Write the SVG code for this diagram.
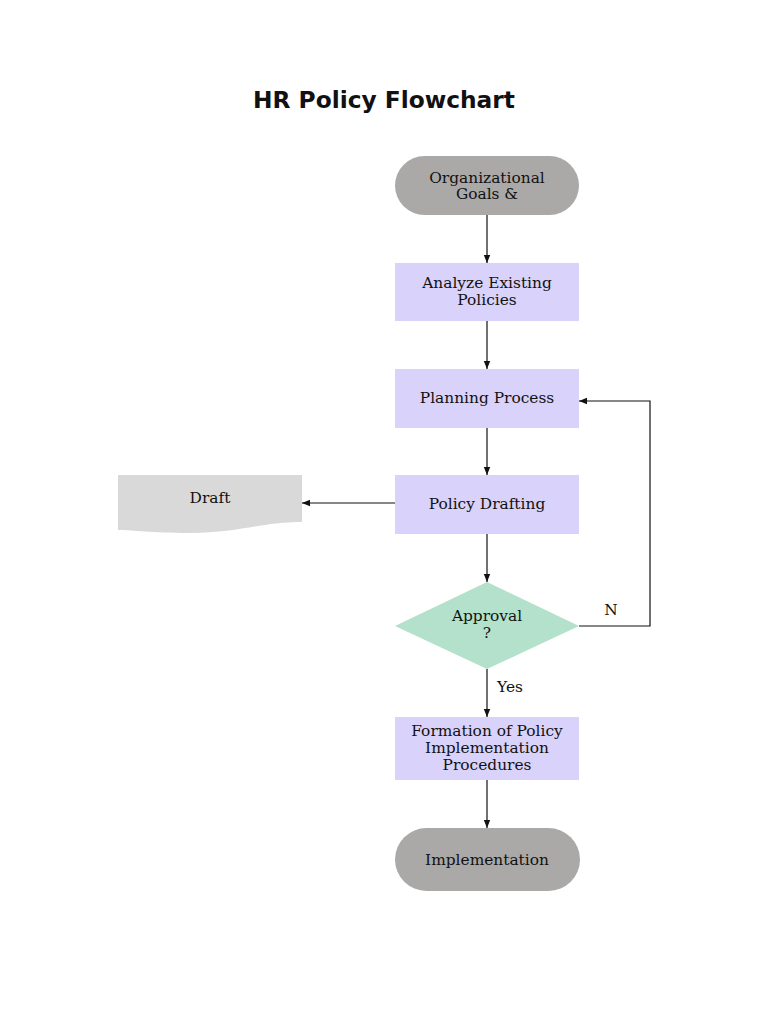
<svg xmlns="http://www.w3.org/2000/svg" width="768" height="1024" viewBox="0 0 768 1024">
<style>
.t{font-family:"DejaVu Serif",serif;font-size:15.4px;fill:#111;text-anchor:middle}
.term{fill:#aba9a8}
.proc{fill:#d9d2fb}
.c{stroke:#111;stroke-width:1.2;fill:none;marker-end:url(#ah)}
</style>
<defs>
<marker id="ah" viewBox="0 0 10 10" refX="10" refY="5" markerWidth="8" markerHeight="8" markerUnits="userSpaceOnUse" orient="auto"><path d="M0,1 L10,5 L0,9 z" fill="#111"/></marker>
</defs>
<rect width="768" height="1024" fill="#fff"/>
<text x="384" y="108" style="font-family:'DejaVu Sans',sans-serif;font-size:23.3px;font-weight:bold;fill:#111;text-anchor:middle">HR Policy Flowchart</text>
<g id="n1"><rect class="term" x="395" y="156" width="184" height="59" rx="29.5"/><text class="t" x="487" y="183">Organizational</text><text class="t" x="487" y="199">Goals &amp;</text></g>
<g id="n2"><rect class="proc" x="395" y="263" width="184" height="58"/><text class="t" x="487" y="288">Analyze Existing</text><text class="t" x="487" y="305">Policies</text></g>
<g id="n3"><rect class="proc" x="395" y="369" width="184" height="59"/><text class="t" x="487" y="403">Planning Process</text></g>
<g id="n4"><rect class="proc" x="395" y="475" width="184" height="59"/><text class="t" x="487" y="509">Policy Drafting</text></g>
<g id="draft"><path d="M118,475 H302 V522 C260,522 240,533 190,533 C150,533 135,530 118,530 Z" fill="#d9d9d9"/><text class="t" x="210" y="503">Draft</text></g>
<g id="n5"><path d="M487,582 L579,626 L487,669 L395,626 Z" fill="#b3e1cc"/><text class="t" x="487" y="621">Approval</text><text class="t" x="487" y="638">?</text></g>
<g id="n6"><rect class="proc" x="395" y="717" width="184" height="63"/><text class="t" x="487" y="736">Formation of Policy</text><text class="t" x="487" y="753">Implementation</text><text class="t" x="487" y="770">Procedures</text></g>
<g id="n7"><rect class="term" x="395" y="828" width="185" height="63" rx="31.5"/><text class="t" x="487" y="865">Implementation</text></g>
<g id="connectors">
<path class="c" d="M487,215 V263"/>
<path class="c" d="M487,321 V369"/>
<path class="c" d="M487,428 V475"/>
<path class="c" d="M395,503 H302"/>
<path class="c" d="M487,534 V582"/>
<path class="c" d="M579,626 H650 V401 H579"/>
<path class="c" d="M487,669 V717"/>
<path class="c" d="M487,780 V828"/>
<text class="t" x="611" y="615">N</text>
<text class="t" x="510" y="692">Yes</text>
</g>
</svg>
